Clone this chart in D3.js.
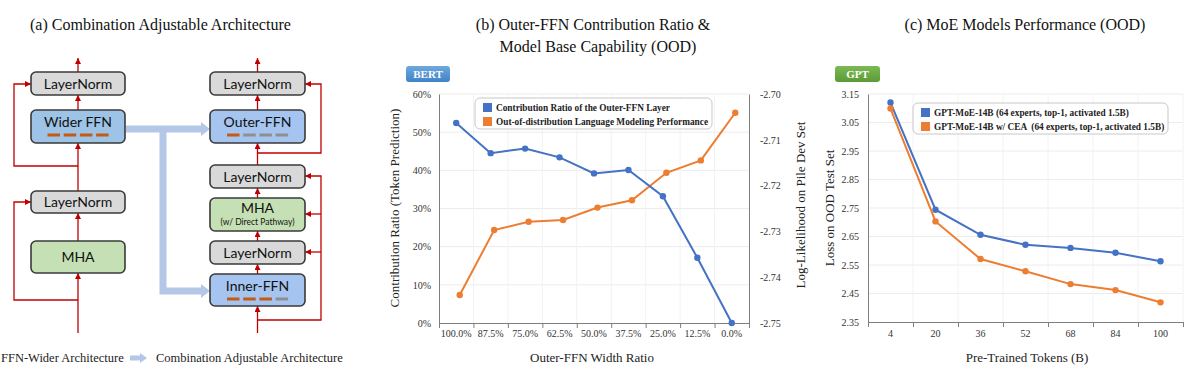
<!DOCTYPE html>
<html>
<head>
<meta charset="utf-8">
<script src="https://cdn.jsdelivr.net/npm/d3@7"></script>
<style>
  body { margin: 0; background: #fff; }
  svg { display: block; }
  text { font-family: "Liberation Serif", "Times New Roman", serif; white-space: pre; }
  .sans { font-family: Lato, "Noto Sans", sans-serif; }
</style>
</head>
<body>
<div id="fig"></div>
<script>
// ---- data ----
var widthRatios = ["100.0%", "87.5%", "75.0%", "62.5%", "50.0%", "37.5%", "25.0%", "12.5%", "0.0%"];
var contribution = [52.4, 44.5, 45.7, 43.4, 39.2, 40.1, 33.2, 17.1, 0.0];
var oodLikelihood = [-2.7439, -2.7297, -2.7279, -2.7275, -2.7248, -2.7232, -2.7172, -2.7145, -2.7041];
var contribTicks = [0, 10, 20, 30, 40, 50, 60];
var likelihoodTicks = [-2.75, -2.74, -2.73, -2.72, -2.71, -2.70];

var tokens = [4, 20, 36, 52, 68, 84, 100];
var lossMoE = [3.120, 2.744, 2.656, 2.621, 2.610, 2.593, 2.563];
var lossCEA = [3.099, 2.703, 2.571, 2.528, 2.483, 2.462, 2.419];
var lossTicks = [2.35, 2.45, 2.55, 2.65, 2.75, 2.85, 2.95, 3.05, 3.15];

var legendB = ["Contribution Ratio of the Outer-FFN Layer", "Out-of-distribution Language Modeling Performance"];
var legendC = ["GPT-MoE-14B (64 experts, top-1, activated 1.5B)", "GPT-MoE-14B w/ CEA  (64 experts, top-1, activated 1.5B)"];

var blue = "#4472c4", orange = "#ed7d31", red = "#c00000", grid = "#ececec", axisCol = "#7f7f7f";

var svg = d3.select("#fig").append("svg")
    .attr("width", 1191)
    .attr("height", 366);

var defs = svg.append("defs");
defs.append("marker")
    .attr("id", "redHead")
    .attr("viewBox", "0 0 10 10")
    .attr("refX", 10).attr("refY", 5)
    .attr("markerWidth", 6).attr("markerHeight", 6)
    .attr("markerUnits", "userSpaceOnUse")
    .attr("orient", "auto")
    .append("path").attr("d", "M0,0L10,5L0,10Z").attr("fill", red);

function badgeGradient(id, top, bottom) {
    var g = defs.append("linearGradient").attr("id", id).attr("x1", 0).attr("y1", 0).attr("x2", 0).attr("y2", 1);
    g.append("stop").attr("offset", "0%").attr("stop-color", top);
    g.append("stop").attr("offset", "100%").attr("stop-color", bottom);
}
badgeGradient("bertGrad", "#6fa8dc", "#3f83c8");
badgeGradient("gptGrad", "#7cba55", "#5b9a36");

// ---------------- (a) architecture diagram ----------------
var diag = svg.append("g");

diag.append("text").attr("x", 30).attr("y", 30)
    .attr("font-size", 16).attr("fill", "#111")
    .text("(a) Combination Adjustable Architecture");

function redPath(points, head) {
    diag.append("path")
        .attr("d", d3.line()(points))
        .attr("fill", "none")
        .attr("stroke", red)
        .attr("stroke-width", 1.3)
        .attr("marker-end", head ? "url(#redHead)" : null);
}

// labelY: baseline offset from box top (defaults to vertical centre)
function box(cx, y, w, h, fill, label, sub, labelY) {
    diag.append("rect")
        .attr("x", cx - w / 2).attr("y", y)
        .attr("width", w).attr("height", h)
        .attr("rx", 5)
        .attr("fill", fill)
        .attr("stroke", "#3a3a3a")
        .attr("stroke-width", 1.6);
    var ty = labelY ? y + labelY : (sub ? y + 15 : y + h / 2 + 5);
    diag.append("text").attr("class", "sans")
        .attr("x", cx).attr("y", ty)
        .attr("text-anchor", "middle")
        .attr("font-size", 14).attr("fill", "#111")
        .text(label);
    if (sub) {
        diag.append("text").attr("class", "sans")
            .attr("x", cx).attr("y", y + 27)
            .attr("text-anchor", "middle")
            .attr("font-size", 8.5).attr("fill", "#111")
            .text(sub);
    }
}

function dashes(cx, y, colors) {
    colors.forEach(function (c, i) {
        diag.append("line")
            .attr("x1", cx - 30.5 + i * 16.2).attr("x2", cx - 30.5 + i * 16.2 + 12.5)
            .attr("y1", y).attr("y2", y)
            .attr("stroke", c).attr("stroke-width", 3);
    });
}

var lnFill = "#d9d9d9", ffnFill = "#9dc3e6", ffnFill2 = "#a6c4f0", mhaFill = "#c5e0b4";
var oc = "#c55a11", gc = "#8f8f8f";

// left column (FFN-wider)
var lx = 78;
redPath([[lx, 333], [lx, 273]], true);
redPath([[lx, 241], [lx, 213]], true);
redPath([[lx, 191], [lx, 143]], true);
redPath([[lx, 110], [lx, 95]], true);
redPath([[lx, 72], [lx, 58]], true);
redPath([[lx, 300], [14, 300], [14, 202], [31, 202]], true);
redPath([[lx, 166], [14, 166], [14, 84], [31, 84]], true);

box(lx, 72, 94, 23, lnFill, "LayerNorm");
box(lx, 110, 94, 33, ffnFill, "Wider FFN", null, 17);
dashes(lx, 135, [oc, oc, oc, oc]);
box(lx, 191, 94, 22, lnFill, "LayerNorm");
box(lx, 241, 94, 32, mhaFill, "MHA");

// right column (combination adjustable)
var rx = 257.5;
redPath([[rx, 333], [rx, 306]], true);
redPath([[rx, 274], [rx, 264]], true);
redPath([[rx, 241], [rx, 231]], true);
redPath([[rx, 198], [rx, 188]], true);
redPath([[rx, 165], [rx, 143]], true);
redPath([[rx, 110], [rx, 95]], true);
redPath([[rx, 72], [rx, 58]], true);
redPath([[rx, 320], [321, 320], [321, 176], [305, 176]], true);
redPath([[321, 214], [305, 214]], true);
redPath([[321, 252], [305, 252]], true);
redPath([[rx, 153], [321, 153], [321, 84], [305, 84]], true);

// thick light-blue conversion arrows
var lb = "#b4c7e7";
diag.append("path")
    .attr("d", d3.line()([[126, 129], [203, 129]]))
    .attr("stroke", lb).attr("stroke-width", 7).attr("fill", "none");
diag.append("path")
    .attr("d", d3.line()([[163, 129], [163, 291], [203, 291]]))
    .attr("stroke", lb).attr("stroke-width", 7).attr("fill", "none")
    .attr("stroke-linejoin", "miter");
[129, 291].forEach(function (y) {
    diag.append("path")
        .attr("d", "M201," + (y - 7) + "L210," + y + "L201," + (y + 7) + "Z")
        .attr("fill", lb);
});

box(rx, 72, 95, 23, lnFill, "LayerNorm");
box(rx, 110, 95, 33, ffnFill2, "Outer-FFN", null, 17);
dashes(rx, 135, [oc, gc, gc, gc]);
box(rx, 165, 95, 23, lnFill, "LayerNorm");
box(rx, 198, 95, 33, mhaFill, "MHA", "(w/ Direct Pathway)");
box(rx, 241, 95, 23, lnFill, "LayerNorm");
box(rx, 274, 95, 32, ffnFill2, "Inner-FFN", null, 17);
dashes(rx, 299, [oc, oc, oc, gc]);

// bottom caption legend
diag.append("text").attr("x", 1).attr("y", 362)
    .attr("font-size", 12.5).attr("fill", "#222")
    .text("FFN-Wider Architecture");
diag.append("path").attr("d", "M130,358L141,358")
    .attr("stroke", lb).attr("stroke-width", 5);
diag.append("path").attr("d", "M140,353L147,358L140,363Z").attr("fill", lb);
diag.append("text").attr("x", 156).attr("y", 362)
    .attr("font-size", 12.5).attr("fill", "#222")
    .text("Combination Adjustable Architecture");

// ---------------- shared helpers for the two charts ----------------
function badge(x, y, w, label, fillId) {
    svg.append("rect").attr("x", x).attr("y", y).attr("width", w).attr("height", 16)
        .attr("rx", 3).attr("fill", "url(#" + fillId + ")");
    svg.append("text").attr("x", x + w / 2).attr("y", y + 12)
        .attr("text-anchor", "middle").attr("font-size", 11).attr("font-weight", "bold")
        .attr("fill", "#fff").text(label);
}

function legend(x, y, w, h, labels, colors) {
    svg.append("rect").attr("x", x).attr("y", y).attr("width", w).attr("height", h)
        .attr("rx", 5).attr("fill", "#fff").attr("stroke", "#c8c8c8");
    labels.forEach(function (t, i) {
        svg.append("rect").attr("x", x + 8).attr("y", y + 5 + i * 14).attr("width", 9).attr("height", 9)
            .attr("fill", colors[i]);
        svg.append("text").attr("x", x + 21).attr("y", y + 13 + i * 14)
            .attr("font-size", 9.3).attr("font-weight", "bold").attr("fill", "#222")
            .text(t);
    });
}

function styleAxis(g) {
    g.selectAll(".domain").attr("stroke", axisCol);
    g.selectAll(".tick line").attr("stroke", axisCol);
    g.selectAll("text").attr("font-family", "Liberation Serif, Times New Roman, serif")
        .attr("font-size", 10).attr("fill", "#333");
}

function series(g, x, y, cats, vals, color, dx) {
    var pts = cats.map(function (c, i) { return [x(c) + x.bandwidth() / 2 + dx, y(vals[i])]; });
    g.append("path").attr("d", d3.line()(pts))
        .attr("fill", "none").attr("stroke", color).attr("stroke-width", 2);
    g.selectAll(null).data(pts).enter().append("circle")
        .attr("cx", function (d) { return d[0]; })
        .attr("cy", function (d) { return d[1]; })
        .attr("r", 3.2).attr("fill", color);
}

// ---------------- (b) contribution ratio ----------------
var b = { left: 439, right: 749, top: 94, bottom: 323 };
var gb = svg.append("g");

gb.append("text").attr("x", 593).attr("y", 30).attr("text-anchor", "middle")
    .attr("font-size", 16).attr("fill", "#111").text("(b) Outer-FFN Contribution Ratio &");
gb.append("text").attr("x", 598).attr("y", 52).attr("text-anchor", "middle")
    .attr("font-size", 16).attr("fill", "#111").text("Model Base Capability (OOD)");

var xB = d3.scaleBand().domain(widthRatios).range([b.left, b.right]);
var yB = d3.scaleLinear().domain([0, 60]).range([b.bottom, b.top]);
var yB2 = d3.scaleLinear().domain([-2.75, -2.70]).range([b.bottom, b.top]);
var edgeB = d3.scaleLinear().domain([0, widthRatios.length]).range([b.left, b.right]);

gb.selectAll(null).data(contribTicks.slice(1)).enter().append("line")
    .attr("x1", b.left).attr("x2", b.right)
    .attr("y1", function (d) { return yB(d); }).attr("y2", function (d) { return yB(d); })
    .attr("stroke", grid);
gb.selectAll(null).data(d3.range(1, widthRatios.length)).enter().append("line")
    .attr("x1", function (d) { return edgeB(d); }).attr("x2", function (d) { return edgeB(d); })
    .attr("y1", b.top).attr("y2", b.bottom)
    .attr("stroke", "#f2f2f2");

gb.append("g").attr("transform", "translate(0," + b.bottom + ")")
    .call(d3.axisBottom(edgeB).tickValues(d3.range(0, widthRatios.length + 1)).tickSize(5).tickSizeOuter(0).tickFormat(""))
    .call(styleAxis);
gb.append("g").attr("transform", "translate(0," + b.bottom + ")")
    .call(d3.axisBottom(xB).tickSize(0).tickPadding(7))
    .call(function (g) { g.select(".domain").remove(); })
    .call(styleAxis);
gb.append("g").attr("transform", "translate(" + b.left + ",0)")
    .call(d3.axisLeft(yB).tickValues(contribTicks).tickSize(0).tickPadding(8)
        .tickFormat(function (d) { return d + "%"; }))
    .call(styleAxis);
gb.append("g").attr("transform", "translate(" + b.right + ",0)")
    .call(d3.axisRight(yB2).tickValues(likelihoodTicks).tickSize(0).tickPadding(11)
        .tickFormat(function (d) { return d.toFixed(2); }))
    .call(styleAxis);

gb.append("text").attr("transform", "translate(399,208) rotate(-90)")
    .attr("text-anchor", "middle").attr("font-size", 13).attr("fill", "#222")
    .text("Contribution Ratio (Token Prediction)");
gb.append("text").attr("transform", "translate(805,205) rotate(-90)")
    .attr("text-anchor", "middle").attr("font-size", 13).attr("fill", "#222")
    .text("Log-Likelihood on Pile Dev Set");
gb.append("text").attr("x", 592).attr("y", 362).attr("text-anchor", "middle")
    .attr("font-size", 13).attr("fill", "#222").text("Outer-FFN Width Ratio");

series(gb, xB, yB2, widthRatios, oodLikelihood, orange, 3.5);
series(gb, xB, yB, widthRatios, contribution, blue, 0);

badge(406, 66, 44, "BERT", "bertGrad");
legend(475, 98, 237, 31, legendB, [blue, orange]);

// ---------------- (c) MoE performance ----------------
var c = { left: 868, right: 1183, top: 94, bottom: 322 };
var gc2 = svg.append("g");

gc2.append("text").attr("x", 1025).attr("y", 30).attr("text-anchor", "middle")
    .attr("font-size", 16).attr("fill", "#111").text("(c) MoE Models Performance (OOD)");

var xC = d3.scaleBand().domain(tokens).range([c.left, c.right]);
var yC = d3.scaleLinear().domain([2.35, 3.15]).range([c.bottom, c.top]);
var edgeC = d3.scaleLinear().domain([0, tokens.length]).range([c.left, c.right]);

gc2.selectAll(null).data(lossTicks.slice(1)).enter().append("line")
    .attr("x1", c.left).attr("x2", c.right)
    .attr("y1", function (d) { return yC(d); }).attr("y2", function (d) { return yC(d); })
    .attr("stroke", grid);
gc2.selectAll(null).data(d3.range(1, tokens.length + 1)).enter().append("line")
    .attr("x1", function (d) { return edgeC(d); }).attr("x2", function (d) { return edgeC(d); })
    .attr("y1", c.top).attr("y2", c.bottom)
    .attr("stroke", "#f2f2f2");

gc2.append("g").attr("transform", "translate(0," + c.bottom + ")")
    .call(d3.axisBottom(edgeC).tickValues(d3.range(0, tokens.length + 1)).tickSize(5).tickSizeOuter(0).tickFormat(""))
    .call(styleAxis);
gc2.append("g").attr("transform", "translate(0," + c.bottom + ")")
    .call(d3.axisBottom(xC).tickSize(0).tickPadding(8))
    .call(function (g) { g.select(".domain").remove(); })
    .call(styleAxis);
gc2.append("g").attr("transform", "translate(" + c.left + ",0)")
    .call(d3.axisLeft(yC).tickValues(lossTicks).tickSize(0).tickPadding(9)
        .tickFormat(function (d) { return d.toFixed(2); }))
    .call(styleAxis);

gc2.append("text").attr("transform", "translate(834,208) rotate(-90)")
    .attr("text-anchor", "middle").attr("font-size", 13).attr("fill", "#222")
    .text("Loss on OOD Test Set");
gc2.append("text").attr("x", 1027).attr("y", 362).attr("text-anchor", "middle")
    .attr("font-size", 13).attr("fill", "#222").text("Pre-Trained Tokens (B)");

series(gc2, xC, yC, tokens, lossMoE, blue, 0);
series(gc2, xC, yC, tokens, lossCEA, orange, 0);

badge(835, 66, 45, "GPT", "gptGrad");
legend(913, 103, 255, 31, legendC, [blue, orange]);
</script>
</body>
</html>
